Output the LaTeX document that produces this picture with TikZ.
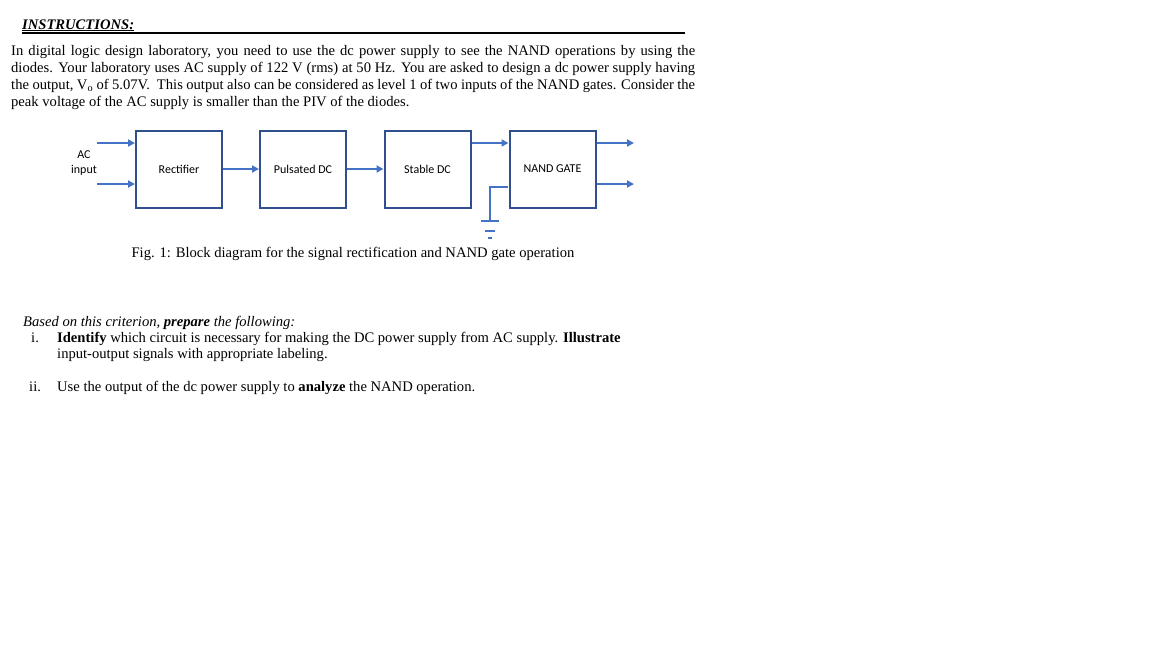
\documentclass[tikz,border=0pt]{standalone}
\usepackage{fontspec}
\setmainfont{Liberation Serif}
\newfontfamily\calfont{Carlito}
\usetikzlibrary{arrows.meta}
\definecolor{bx}{HTML}{2F4F8F}
\definecolor{ar}{HTML}{4472C4}
\newcommand\bodyfs{\fontsize{14.6}{17}\selectfont}
\begin{document}
\begin{tikzpicture}[x=1pt,y=-1pt,
  blk/.style={draw=bx,line width=2pt,minimum width=86pt,minimum height=77pt,font=\calfont\fontsize{12}{14}\selectfont},
  arr/.style={draw=ar,line width=1.8pt,-{Triangle[length=7pt,width=7pt]}},
  gl/.style={draw=ar,line width=1.8pt},
  tl/.style={anchor=base west,inner sep=0pt,font=\bodyfs}]
\useasboundingbox (0,0) rectangle (1152,648);
\node[anchor=base west,inner sep=0pt,font=\bodyfs\bfseries\itshape] (title) at (22,29) {\underline{INSTRUCTIONS:}};
\draw[line width=1.8pt] (22,33) -- (685,33);
\node[anchor=north west,inner sep=0pt] (para) at (11,45) {\parbox{684pt}{\bodyfs In digital logic design laboratory, you need to use the dc power supply to see the NAND operations by using the\linebreak diodes. Your laboratory uses AC supply of 122 V (rms) at 50 Hz. You are asked to design a dc power supply having\linebreak the output, V\textsubscript{o} of 5.07V.\ \ This output also can be considered as level 1 of two inputs of the NAND gates. Consider the\linebreak peak voltage of the AC supply is smaller than the PIV of the diodes.}};
\node[blk] (rect) at (179,169) {Rectifier};
\node[blk] (puls) at (303,169) {Pulsated DC};
\node[blk] (stab) at (427.5,169) {Stable DC};
\node[blk] (nand) at (552.5,169) {NAND GATE};
\node[align=center,font=\calfont\fontsize{12}{15}\selectfont] (ac) at (84,163) {AC\\input};
\coordinate (a1) at (97,143); \coordinate (a2) at (97,184);
\draw[arr] (a1) -- (a1 -| rect.west);
\draw[arr] (a2) -- (a2 -| rect.west);
\draw[arr] (rect) -- (puls);
\draw[arr] (puls) -- (stab);
\coordinate (s1) at (472,143);
\draw[arr] (s1) -- (s1 -| nand.west);
\coordinate (o1) at (597,143); \coordinate (o2) at (597,184);
\coordinate (o1e) at (634,143); \coordinate (o2e) at (634,184);
\draw[arr] (o1) -- (o1e);
\draw[arr] (o2) -- (o2e);
\coordinate (g0) at (508,187); \coordinate (g1) at (490,187); \coordinate (g2) at (490,221);
\draw[gl] (g0) -- (g1) -- (g2);
\draw[gl] (481,221) -- (499,221);
\draw[gl] (485,231) -- (495,231);
\draw[gl] (488,238) -- (492,238);
\node[anchor=base,inner sep=0pt,font=\bodyfs] (cap) at (353,257) {Fig. 1: Block diagram for the signal rectification and NAND gate operation};
\node[tl,font=\bodyfs\itshape] (crit) at (23,326) {Based on this criterion, \textbf{prepare} the following:};
\node[tl] (i) at (31,342) {i.};
\node[tl] (il1) at (57,342) {\textbf{Identify} which circuit is necessary for making the DC power supply from AC supply. \textbf{Illustrate}};
\node[tl] (il2) at (57,358) {input-output signals with appropriate labeling.};
\node[tl] (ii) at (29,391) {ii.};
\node[tl] (iil) at (57,391) {Use the output of the dc power supply to \textbf{analyze} the NAND operation.};
\end{tikzpicture}
\end{document}
